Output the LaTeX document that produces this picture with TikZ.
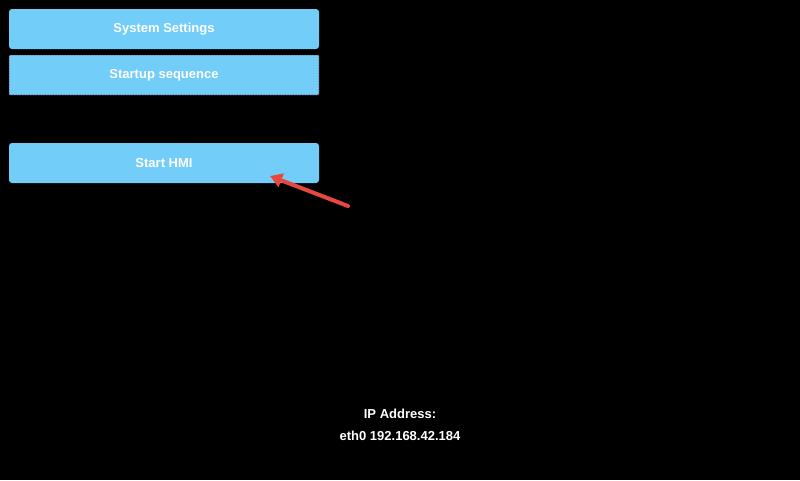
\documentclass[tikz,border=0pt]{standalone}
\usepackage{fontspec}
\setmainfont{Liberation Sans}
\usetikzlibrary{arrows.meta}
\definecolor{btn}{HTML}{72CEF8}
\definecolor{arr}{HTML}{E8473F}
\tikzset{button/.style={fill=btn,rounded corners=3pt,minimum width=310pt,minimum height=40pt,inner sep=0pt,text=white,font=\bfseries\fontsize{13}{15}\selectfont},
lbl/.style={text=white,font=\bfseries\fontsize{13}{15}\selectfont}}
\begin{document}
\begin{tikzpicture}[x=1pt,y=-1pt]
\fill[black] (0,0) rectangle (800,480);
\useasboundingbox (0,0) rectangle (800,480);
\node[button] (sys) at (164,29) {System Settings};
\node[button,rounded corners=1pt,draw=black!60!red,densely dotted,line width=0.6pt] (seq) at (164,75) {Startup sequence};
\node[button] (hmi) at (164,163) {Start HMI};
\coordinate (tail) at (348,206);
\coordinate (tip) at (270,176);
\draw[arr,line width=4pt,line cap=round,-{Triangle[length=12pt,width=14pt]}] (tail) -- (tip);
\node[lbl] (ip1) at (400,414) {IP Address:};
\node[lbl] (ip2) at (400,436) {eth0 192.168.42.184};
\end{tikzpicture}
\end{document}
